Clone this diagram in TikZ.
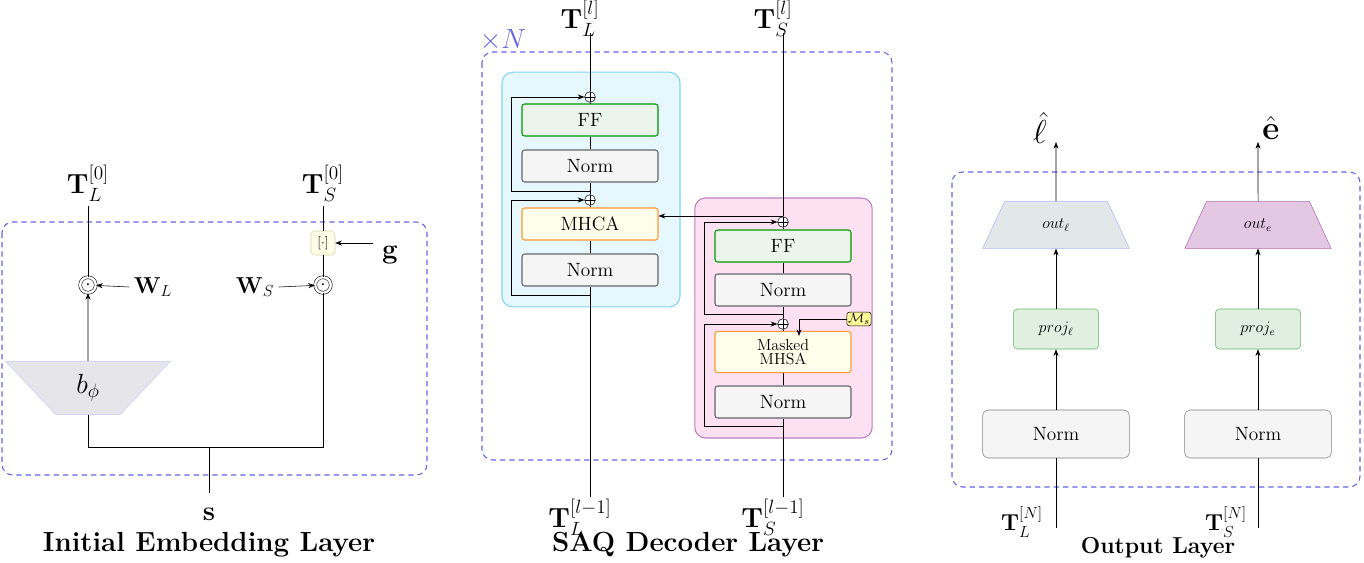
\documentclass[tikz,border=0pt]{standalone}
\usepackage{amsmath,amssymb}
\usetikzlibrary{arrows.meta,shapes.geometric}
\definecolor{dblue}{RGB}{100,100,230}
\begin{document}
\begin{tikzpicture}[x=0.75pt,y=-0.75pt,
  dbox/.style={draw=dblue,thick,rounded corners=8pt,dash pattern=on 4pt off 3pt},
  ar/.style={-{Stealth[length=5pt]}},
  blk/.style={draw,thick,rounded corners=2pt,minimum width=102pt,minimum height=24pt,inner sep=0pt,font=\Large},
  ff/.style={blk,draw=green!60!black,fill=green!50!black!8},
  nm/.style={blk,draw=gray!80!black,fill=gray!8},
  att/.style={blk,draw=orange!80,fill=yellow!8},
  pl/.style={circle,draw,fill=white,inner sep=0pt,minimum size=8pt,path picture={\draw[very thin](path picture bounding box.west)--(path picture bounding box.east)(path picture bounding box.north)--(path picture bounding box.south);}},
  od/.style={circle,draw,double,double distance=1.8pt,inner sep=1.5pt,font=\Large},
  lbl/.style={font=\huge}]
\useasboundingbox (0,0) rectangle (1364,562);
% ---------- Initial embedding
\draw[dbox] (2,222) rectangle (427,475);
\node[lbl] (TL0) at (88,183) {$\mathbf{T}_L^{[0]}$};
\node[lbl] (TS0) at (323,183) {$\mathbf{T}_S^{[0]}$};
\node[od] (oL) at (88,285) {$\cdot$};
\node[od] (oS) at (323,285) {$\cdot$};
\node[font=\LARGE] (WL) at (153,287) {$\mathbf{W}_L$};
\node[font=\LARGE] (WS) at (255,287) {$\mathbf{W}_S$};
\node[draw=yellow!40!gray!60,fill=yellow!10,rounded corners=3pt,minimum size=18pt,inner sep=0pt,font=\normalsize] (br) at (323,243) {$[\cdot]$};
\node[font=\huge] (g) at (390,255) {$\mathbf{g}$};
\coordinate (gs) at (373,243);
\node[trapezium,shape border rotate=180,trapezium stretches=true,minimum width=124pt,minimum height=40pt,fill=blue!8!gray!18,draw=blue!20,trapezium left angle=55,trapezium right angle=55,font=\huge] (bp) at (88,388) {$b_\phi$};
\coordinate (jn) at (209,447);
\coordinate (sb) at (209,493);
\node[font=\huge] (s) at (209,514) {$\mathbf{s}$};
\draw (TL0.south) -- (oL);
\draw (TS0.south) -- (br) -- (oS);
\draw[ar] (WL.west) -- (oL);
\draw[ar] (WS.east) -- (oS);
\draw[ar] (gs) -- (br);
\draw[ar] (bp.north) -- (oL);
\draw (bp.south) |- (jn) -| (oS);
\draw (jn) -- (sb);
\node[font=\huge\bfseries] (t1) at (209,545) {Initial Embedding Layer};
% ---------- SAQ decoder
\draw[dbox] (482,52) rectangle (892,460);
\node[text=dblue,font=\huge] (xN) at (503,40) {$\times N$};
\node[draw=cyan!50,fill=cyan!10,rounded corners=8pt,minimum width=133.5pt,minimum height=176pt,thick] (cy) at (591,189.5) {};
\node[draw=violet!50,fill=magenta!12,rounded corners=8pt,minimum width=133pt,minimum height=180pt,thick] (mg) at (783.5,318) {};
\node[lbl] (TLl) at (580,18) {$\mathbf{T}_L^{[l]}$};
\node[lbl] (TSl) at (773,18) {$\mathbf{T}_S^{[l]}$};
\node[lbl] (TLm) at (580,517) {$\mathbf{T}_L^{[l-1]}$};
\node[lbl] (TSm) at (773,517) {$\mathbf{T}_S^{[l-1]}$};
% left stack
\node[pl] (p1) at (590,97) {};
\node[ff] (ff1) at (590,120) {FF};
\node[nm] (n1) at (590,166) {Norm};
\node[pl] (p2) at (590,200) {};
\node[att] (mhca) at (590,224) {MHCA};
\node[nm] (n2) at (590,270) {Norm};
\coordinate (r1) at (590,191); \coordinate (r2) at (590,295);
\coordinate (tl) at (590,33); \coordinate (ts) at (783,33);
\coordinate (bl) at (590,497); \coordinate (bs) at (783,497);
\draw (bl) -- (n2) -- (mhca) -- (p2) -- (n1) -- (ff1) -- (p1) -- (tl);
\draw[ar] (r1) -| (511,97) -- (p1);
\draw[ar] (r2) -| (511,200) -- (p2);
% right stack
\node[pl] (p3) at (783,222) {};
\node[ff] (ff2) at (783,246) {FF};
\node[nm] (n3) at (783,290) {Norm};
\node[pl] (p4) at (783,324) {};
\node[att,minimum height=31pt,align=center,font=\large] (mhsa) at (783,352) {Masked\\[-3pt]MHSA};
\node[nm] (n4) at (783,402) {Norm};
\coordinate (r3) at (783,314); \coordinate (r4) at (783,426);
\draw (bs) -- (n4) -- (mhsa) -- (p4) -- (n3) -- (ff2) -- (p3) -- (ts);
\draw[ar] (r3) -| (704,222) -- (p3);
\draw[ar] (r4) -| (704,324) -- (p4);
\node[draw=black,fill=yellow!40,rounded corners=2pt,inner sep=1pt,font=\normalsize] (Ms) at (859,319) {$\mathcal{M}_s$};
\draw[ar] (Ms.west) -| (799,336);
\coordinate (ca) at (783,216);
\draw[ar] (ca) -- (mhca.east |- ca);
\node[font=\huge\bfseries] (t2) at (688,545) {SAQ Decoder Layer};
% ---------- Output layer
\draw[dbox] (952,172) rectangle (1360,487);
\node[font=\Huge] (lh) at (1040,128) {$\hat{\ell}$};
\node[font=\Huge] (eh) at (1271,128) {$\hat{\mathbf{e}}$};
\node[trapezium,trapezium stretches=true,minimum width=110pt,minimum height=35pt,fill=blue!30!cyan!12!gray!20,draw=blue!30,trapezium left angle=70,trapezium right angle=70,font=\large] (o1) at (1056,225) {$out_\ell$};
\node[trapezium,trapezium stretches=true,minimum width=110pt,minimum height=35pt,fill=violet!22,draw=violet!60,trapezium left angle=70,trapezium right angle=70,font=\large] (o2) at (1258,225) {$out_e$};
\node[draw=green!50!black!60,fill=green!50!black!12,rounded corners=3pt,minimum width=64pt,minimum height=30pt,font=\large] (pr1) at (1056,329) {$proj_\ell$};
\node[draw=green!50!black!60,fill=green!50!black!12,rounded corners=3pt,minimum width=64pt,minimum height=30pt,font=\large] (pr2) at (1258,329) {$proj_e$};
\node[draw=gray,fill=gray!8,rounded corners=4pt,minimum width=110pt,minimum height=36pt,font=\Large] (nn1) at (1056,434) {Norm};
\node[draw=gray,fill=gray!8,rounded corners=4pt,minimum width=110pt,minimum height=36pt,font=\Large] (nn2) at (1258,434) {Norm};
\node[font=\LARGE] (TLN) at (1022,522) {$\mathbf{T}_L^{[N]}$};
\node[font=\LARGE] (TSN) at (1226,522) {$\mathbf{T}_S^{[N]}$};
\coordinate (b1) at (1056,528); \coordinate (b2) at (1258,528);
\coordinate (a1) at (1056,142); \coordinate (a2) at (1258,142);
\draw (b1) -- (nn1); \draw (b2) -- (nn2);
\draw[ar] (nn1) -- (pr1); \draw[ar] (nn2) -- (pr2);
\draw[ar] (pr1) -- (o1); \draw[ar] (pr2) -- (o2);
\draw[ar] (o1.north) -- (a1); \draw[ar] (o2.north) -- (a2);
\node[font=\LARGE\bfseries] (t3) at (1158,548) {Output Layer};
\end{tikzpicture}
\end{document}
